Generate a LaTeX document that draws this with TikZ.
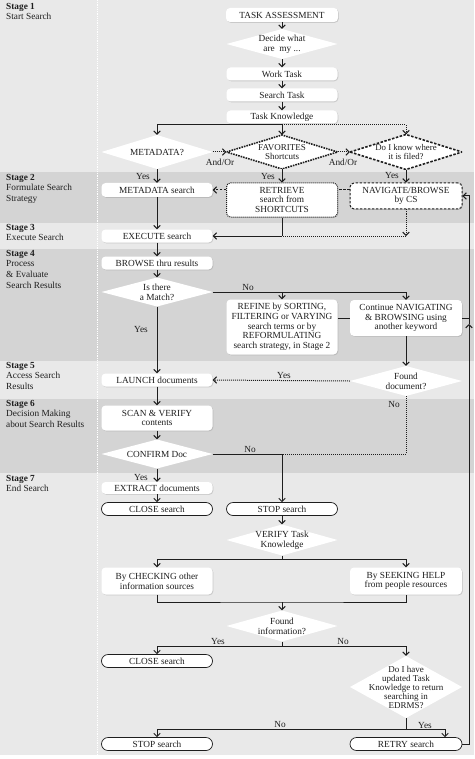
\documentclass[tikz,border=0pt]{standalone}
\usepackage{fontspec}
\setmainfont{Liberation Serif}
\usetikzlibrary{arrows.meta,shadows,calc}
\definecolor{bandlight}{RGB}{233,233,233}
\definecolor{banddark}{RGB}{212,212,212}
\definecolor{ink}{RGB}{30,30,30}
\begin{document}
\begin{tikzpicture}[x=1pt,y=-1pt,
  every node/.style={font=\fontsize{9.3}{9.7}\selectfont, text=ink, align=center, inner sep=0pt},
  stagelab/.style={anchor=north west, align=left, font=\fontsize{9.3}{10.6}\selectfont},
  box/.style={rectangle, rounded corners=4pt, fill=white, minimum width=111pt, minimum height=13pt,
    drop shadow={shadow xshift=0.8pt, shadow yshift=-0.8pt, opacity=0.3}},
  term/.style={rectangle, rounded corners=6.5pt, fill=white, draw=ink, line width=0.7pt, minimum width=111pt, minimum height=13pt},
  dia/.style={rectangle, minimum width=111pt, minimum height=30pt,
    path picture={\fill[white] (path picture bounding box.west) -- (path picture bounding box.north) -- (path picture bounding box.east) -- (path picture bounding box.south) -- cycle;}},
  diadot/.style={rectangle, minimum width=111pt, minimum height=30pt,
    path picture={\filldraw[fill=white, draw=ink, densely dotted, line width=1.6pt] (path picture bounding box.west) -- (path picture bounding box.north) -- (path picture bounding box.east) -- (path picture bounding box.south) -- cycle;}},
  diadash/.style={rectangle, minimum width=111pt, minimum height=30pt,
    path picture={\filldraw[fill=white, draw=ink, dash pattern=on 2.5pt off 1.5pt, line width=1.6pt] (path picture bounding box.west) -- (path picture bounding box.north) -- (path picture bounding box.east) -- (path picture bounding box.south) -- cycle;}},
  ln/.style={draw=ink, line width=1pt},
  arr/.style={draw=ink, line width=1pt, -{Straight Barb[length=3.2pt,width=6.5pt]}},
  dt/.style={draw=ink, line width=1pt, densely dotted},
  ds/.style={draw=ink, line width=1pt, dash pattern=on 2.5pt off 1.5pt}
]
\useasboundingbox (0,0) rectangle (474,759);
% bands
\fill[bandlight] (0,0) rectangle (474,755);
\fill[banddark] (0,172) rectangle (474,223);
\fill[banddark] (0,249) rectangle (474,361);
\fill[banddark] (0,399) rectangle (474,473);
\draw[white, densely dotted, line width=0.8pt] (97,0) -- (97,755);

% stage labels
\node[stagelab] (s1) at (6,3) {\textbf{Stage 1}\\Start Search};
\node[stagelab] (s2) at (6,174) {\textbf{Stage 2}\\Formulate Search\\Strategy};
\node[stagelab] (s3) at (6,224) {\textbf{Stage 3}\\Execute Search};
\node[stagelab] (s4) at (6,250) {\textbf{Stage 4}\\Process\\\& Evaluate\\Search Results};
\node[stagelab] (s5) at (6,362) {\textbf{Stage 5}\\Access Search\\Results};
\node[stagelab] (s6) at (6,400) {\textbf{Stage 6}\\Decision Making\\about Search Results};
\node[stagelab] (s7) at (6,475) {\textbf{Stage 7}\\End Search};

% Stage 1
\node[box, minimum width=112pt, minimum height=14pt] (ta) at (282,15) {TASK ASSESSMENT};
\node[dia] (dec) at (282,44) {Decide what\\are\ \ my ...};
\node[box] (wt) at (282,74) {Work Task};
\node[box] (st) at (282,95) {Search Task};
\node[box] (tk) at (282,117) {Task Knowledge};
\node[dia, minimum height=34pt] (meta) at (157,152) {METADATA?};
\node[diadot, minimum height=34pt, font=\fontsize{9}{9.4}\selectfont] (fav) at (282,152) {FAVORITES\\Shortcuts};
\node[diadash, minimum width=112pt, minimum height=35pt, font=\fontsize{8.8}{9.2}\selectfont] (know) at (406,152) {Do I know where\\it is filed?};
\draw[arr] (ta) -- (dec);
\draw[arr] (dec) -- (wt);
\draw[arr] (wt) -- (st);
\draw[arr] (st) -- (tk);
\coordinate (j1) at (282,125);
\draw[ln] (tk.south) -- (j1);
\draw[arr] (j1) -| (meta.north);
\draw[arr] (j1) -- (fav.north);
\draw[arr, densely dotted] (j1) -| (know.north);
\draw[arr, densely dotted] (meta.east) -- (fav.west);
\node (ao1) at (220,162) {And/Or};
\draw[arr, densely dotted] (fav.east) -- (know.west);
\node (ao2) at (343,162) {And/Or};

% Stage 2
\node[box, minimum height=14pt] (ms) at (157,190) {METADATA search};
\node[box, minimum height=34pt, draw=ink, densely dotted, line width=1pt] (ret) at (282,200) {RETRIEVE\\search from\\SHORTCUTS};
\node[box, minimum width=112pt, minimum height=26pt, draw=ink, dash pattern=on 2.5pt off 1.5pt, line width=1pt] (nav) at (406,196) {NAVIGATE/BROWSE\\by CS};
\draw[arr] (meta.south) -- (ms.north);
\node (y1) at (143,177) {Yes};
\draw[arr] (fav.south) -- (ret.north);
\node (y2) at (268,177) {Yes};
\draw[arr] (know.south) -- (nav.north);
\node (y3) at (392,176) {Yes};
\draw[arr, dash pattern=on 2.5pt off 1.5pt] (ret.west |- ms.east) -- (ms.east);
\draw[ds] (nav.west |- ms.east) -- (ret.east |- ms.east);

% Stage 3
\node[box] (ex) at (157,236) {EXECUTE search};
\draw[arr] (ms.south) -- (ex.north);
\coordinate (j3) at (282,236);
\draw[ln] (ret.south) -- (j3);
\draw[arr] (j3) -- (ex.east);
\coordinate (j3b) at (406,236);
\draw[arr, densely dotted] (nav.south) -- (j3b);
\draw[dt] (j3b) -- (j3);

% Stage 4
\node[box] (br) at (157,263) {BROWSE thru results};
\node[dia, minimum height=29pt] (ma) at (157,292) {Is there\\a Match?};
\node[box, minimum height=55pt] (ref) at (282,327) {REFINE by SORTING,\\FILTERING or VARYING\\search terms or by\\REFORMULATING\\search strategy, in Stage 2};
\node[box, minimum width=112pt, minimum height=36pt] (con) at (406,318) {Continue NAVIGATING\\\& BROWSING using\\another keyword};
\draw[arr] (ex.south) -- (br.north);
\draw[arr] (br.south) -- (ma.north);
\coordinate (j4) at (282,292);
\draw[ln] (ma.east) -- (j4);
\draw[arr] (j4) -- (ref.north);
\draw[arr] (j4) -| (con.north);
\node (n1) at (248,287) {No};
\draw[ln] (ref.east |- con.west) -- (con.west);
\coordinate (fb) at (469,318);
\draw[ln] (con.east) -- (fb);

% Stage 5
\node[box] (la) at (157,380) {LAUNCH documents};
\node[dia, minimum width=112pt] (fd) at (406,381) {Found\\document?};
\draw[arr] (ma.south) -- (la.north);
\node (y4) at (141,329) {Yes};
\draw[arr] (con.south) -- (fd.north);
\draw[arr, densely dotted] (fd.west) -- (la.east);
\node (y5) at (284,375) {Yes};

% Stage 6
\node[box, minimum height=25pt] (sv) at (157,418) {SCAN \& VERIFY\\contents};
\node[dia, minimum height=29pt] (cd) at (157,454) {CONFIRM Doc};
\draw[arr] (la.south) -- (sv.north);
\draw[arr] (sv.south) -- (cd.north);
\coordinate (j6) at (282,454);
\draw[ln] (cd.east) -- (j6);
\node (n2) at (250,449) {No};
\draw[dt] (fd.south) |- (j6);
\node (n3) at (394,404) {No};

% Stage 7
\node[box, minimum height=12pt] (exd) at (157,488) {EXTRACT documents};
\node[term] (cl1) at (157,509) {CLOSE search};
\node[term] (stop1) at (282,509) {STOP search};
\draw[arr] (cd.south) -- (exd.north);
\node (y6) at (141,477) {Yes};
\draw[arr] (exd.south) -- (cl1.north);
\draw[arr] (j6) -- (stop1.north);
\node[dia, minimum height=31pt] (vt) at (282,540) {VERIFY Task\\Knowledge};
\draw[arr] (stop1.south) -- (vt.north);
\node[box, minimum height=27pt] (chk) at (157,581) {By CHECKING other\\information sources};
\node[box, minimum width=112pt, minimum height=27pt] (seek) at (406,581) {By SEEKING HELP\\from people resources};
\coordinate (j7) at (282,559);
\draw[ln] (vt.south) -- (j7);
\draw[arr] (j7) -| (chk.north);
\draw[arr] (j7) -| (seek.north);
\coordinate (j8) at (282,602);
\draw[ln] (chk.south) |- (j8) -| (seek.south);
\node[dia, minimum height=31pt] (fi) at (282,626) {Found\\information?};
\draw[arr] (j8) -- (fi.north);
\coordinate (j9) at (282,646);
\draw[ln] (fi.south) -- (j9);
\node[term] (cl2) at (157,661) {CLOSE search};
\node[dia, minimum width=112pt, minimum height=62pt, font=\fontsize{9}{9}\selectfont] (dih) at (406,687) {Do I have\\updated Task\\Knowledge to return\\searching in\\EDRMS?};
\draw[arr] (j9) -| (cl2.north);
\draw[arr] (j9) -| (dih.north);
\node (y7) at (218,641) {Yes};
\node (n4) at (343,641) {No};
\coordinate (j10) at (406,729);
\draw[ln] (dih.south) -- (j10);
\node[term] (stop2) at (157,744) {STOP search};
\node[term, minimum width=112pt] (retry) at (406,744) {RETRY search};
\draw[arr] (j10) -| (stop2.north);
\coordinate (j11) at (445,729);
\draw[ln] (j10) -- (j11);
\draw[arr] (j11) -- (j11 |- retry.north);
\node (n5) at (280,724) {No};
\node (y8) at (425,725) {Yes};

% feedback
\coordinate (fb2) at (469,324);
\draw[arr] (retry.east) -| (fb2);
\draw[arr] (fb2) |- (nav.east);
\end{tikzpicture}
\end{document}
